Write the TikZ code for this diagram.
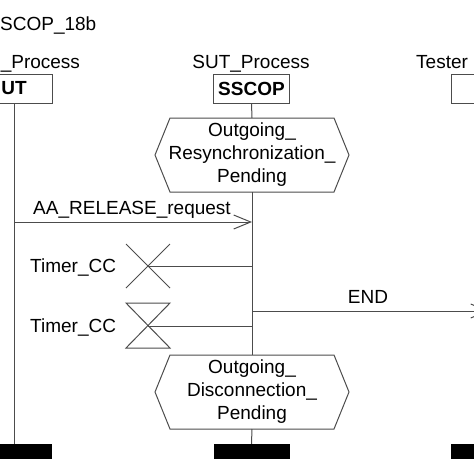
\documentclass[tikz,border=0pt]{standalone}
\usepackage{fontspec}
\setmainfont{Liberation Sans}
\usetikzlibrary{arrows.meta}
\begin{document}
\begin{tikzpicture}[x=1pt,y=-1pt,
  ln/.style={draw=black!70,line width=1pt},
  lbl/.style={font=\fontsize{19}{23}\selectfont,inner sep=0pt},
  procbox/.style={ln,minimum width=76pt,minimum height=29pt,inner sep=0pt,font=\fontsize{19}{23}\selectfont\bfseries},
  endbar/.style={fill=black,draw=none,minimum width=76pt,minimum height=15pt,inner sep=0pt},
  statetext/.style={lbl,align=center},
  msg/.style={ln,-{Straight Barb[length=17pt,width=14pt,line width=1pt]}}]
\useasboundingbox (0,0) rectangle (474,474);
\clip (0,0) rectangle (474,474);
% title
\node[lbl,anchor=base west] (title) at (0,30) {SCOP\_18b};
% process names
\node[lbl,anchor=base west] (pnA) at (0.6,68) {\_Process};
\node[lbl,anchor=base] (pnB) at (251,68) {SUT\_Process};
\node[lbl,anchor=base west] (pnC) at (416,68) {Tester};
% process boxes
\node[procbox] (boxA) at (14,88.5) {UT};
\node[procbox] (boxB) at (251.5,88.5) {SSCOP};
\node[procbox] (boxC) at (489,88.5) {};
% end bars
\node[endbar] (endA) at (14,451.5) {};
\node[endbar] (endB) at (251.5,451.5) {};
\node[endbar] (endC) at (489,451.5) {};
% left and right lifelines
\draw[ln] (boxA.south) -- (endA.north);
\draw[ln] (boxC.south) -- (endC.north);
% state 1
\node[statetext] (st1) at (252,155) {Outgoing\_\\Resynchronization\_\\Pending};
\draw[ln] (170,118) -- (334,118) -- (349,155) -- (334,192) -- (170,192) -- (155,155) -- cycle;
\coordinate (st1top) at (252,118);
\coordinate (st1bot) at (252,192);
% state 2
\node[statetext] (st2) at (252,392) {Outgoing\_\\Disconnection\_\\Pending};
\draw[ln] (170,355) -- (334,355) -- (349,392) -- (334,429) -- (170,429) -- (155,392) -- cycle;
\coordinate (st2top) at (252,355);
\coordinate (st2bot) at (252,429);
% middle lifeline
\draw[ln] (boxB.south) -- (st1top);
\draw[ln] (st1bot) -- (st2top);
\draw[ln] (st2bot) -- (endB.north);
% message AA_RELEASE_request
\coordinate (m1a) at (14,222);
\coordinate (m1b) at (252,222);
\draw[msg] (m1a) -- (m1b);
\node[lbl,anchor=base] (m1lbl) at (132,214) {AA\_RELEASE\_request};
% timer 1 (timeout)
\coordinate (t1) at (148,266);
\coordinate (t1l) at (252,266);
\draw[ln] (126,244) -- (170,288) (126,288) -- (170,244);
\draw[ln] (t1) -- (t1l);
\node[lbl,anchor=base west] (t1lbl) at (30,272) {Timer\_CC};
% END message
\coordinate (m2a) at (252,311);
\coordinate (m2b) at (489,311);
\draw[msg] (m2a) -- (m2b);
\node[lbl,anchor=base] (m2lbl) at (368,303) {END};
% timer 2 (reset)
\coordinate (t2) at (148,326);
\coordinate (t2l) at (252,326);
\draw[ln] (126,303) -- (170,303) -- (126,348) -- (170,348) -- cycle;
\draw[ln] (t2) -- (t2l);
\node[lbl,anchor=base west] (t2lbl) at (30,332) {Timer\_CC};
\end{tikzpicture}
\end{document}
